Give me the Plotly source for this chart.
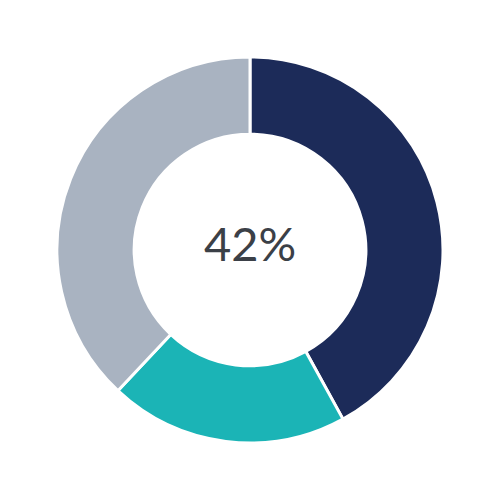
import plotly.graph_objects as go

labels = ["Navy", "Teal", "Gray"]
values = [42, 20, 38]
colors = ["#1c2b59", "#1bb4b6", "#a9b3c1"]
centerText = "42%"

fig = go.Figure()
fig.add_trace( go.Pie( labels=labels, values=values, hole=0.6, sort=False,
    direction="clockwise", rotation=0, textinfo="none", hoverinfo="skip",
    marker=dict(colors=colors, line=dict(color="white", width=3)) ) )

fig.add_annotation( text=centerText, x=0.5, y=0.5, xref="paper", yref="paper", showarrow=False,
    yshift=7, font=dict(family="Lato", size=47, color="#3b4047") )

# page body adds ~8px offset, so shift the domain up/left
fig.update_layout( width=500, height=500, showlegend=False,
    margin=dict(l=49, r=65, t=49, b=65), paper_bgcolor="white" )
fig.write_html( "out.html" )
